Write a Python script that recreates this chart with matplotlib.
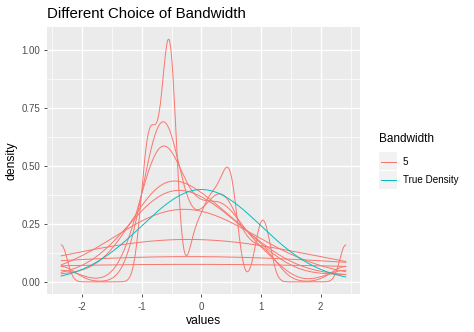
import numpy as np
import matplotlib
matplotlib.use("Agg")
import matplotlib.pyplot as plt
from matplotlib.lines import Line2D
from matplotlib.patches import Rectangle

# ---- data ----
values = [-2.35,
          -0.99, -0.92, -0.87, -0.83, -0.77, -0.68, -0.63, -0.58, -0.55,
          -0.53, -0.51, -0.49, -0.45,
          -0.12, 0.03, 0.14, 0.24,
          0.34, 0.42, 0.49, 0.56,
          0.97, 1.09,
          2.42]
bandwidths = [0.1, 0.24, 0.32, 0.56, 0.68, 1.0, 2.0, 3.55, 5.2]
legend_title = "Bandwidth"
legend_labels = ["5", "True Density"]
x_ticks = [-2, -1, 0, 1, 2]
y_ticks = [0.0, 0.25, 0.50, 0.75, 1.00]
y_tick_labels = ["0.00", "0.25", "0.50", "0.75", "1.00"]

RED = "#F8766D"
TEAL = "#00BFC4"

plt.rcParams['font.family'] = ['Liberation Sans', 'DejaVu Sans']

W, H = 474, 332
fig = plt.figure(figsize=(W / 100, H / 100), dpi=100)
L, R, T, B = 47, 360, 27, 294
ax = fig.add_axes([L / W, 1 - B / H, (R - L) / W, (B - T) / H])
ax.set_facecolor("#EBEBEB")
for s in ax.spines.values():
    s.set_visible(False)

x = np.asarray(values)
grid = np.linspace(x.min(), x.max(), 512)
ymax = 0
for bw in bandwidths:
    z = (grid[:, None] - x[None, :]) / bw
    dens = np.exp(-0.5 * z ** 2).sum(axis=1) / (len(x) * bw * np.sqrt(2 * np.pi))
    ymax = max(ymax, dens.max())
    ax.plot(grid, dens, color=RED, lw=0.7, zorder=3)

true_d = np.exp(-0.5 * grid ** 2) / np.sqrt(2 * np.pi)
ax.plot(grid, true_d, color=TEAL, lw=0.7, zorder=4)

span = x.max() - x.min()
ax.set_xlim(x.min() - 0.05 * span, x.max() + 0.05 * span)
ax.set_ylim(-0.05 * ymax, ymax * 1.05)

ax.set_xticks(x_ticks)
ax.set_xticklabels([str(t) for t in x_ticks])
ax.set_yticks(y_ticks)
ax.set_yticklabels(y_tick_labels)
ax.set_xticks([-2.5, -1.5, -0.5, 0.5, 1.5, 2.5], minor=True)
ax.set_yticks([0.125, 0.375, 0.625, 0.875], minor=True)
ax.grid(which="major", color="white", lw=1.0, zorder=1)
ax.grid(which="minor", color="white", lw=0.5, zorder=1)
ax.set_axisbelow(True)
ax.tick_params(which="major", length=2.5, width=0.6, color="#333333",
               labelcolor="#4D4D4D", labelsize=7, pad=2.5)
ax.tick_params(axis="x", which="major", pad=3.5)
ax.tick_params(which="minor", length=0)

ax.set_xlabel("values", fontsize=8.7, color="black", labelpad=2)
ax.set_ylabel("density", fontsize=8.7, color="black", labelpad=3)

fig.text(L / W, 1 - 17.5 / H, "Different Choice of Bandwidth", fontsize=10.8,
         ha="left", va="baseline", color="black")

# legend (drawn manually, ggplot style)
fig.text(379 / W, 1 - 139 / H, legend_title, fontsize=8.5, ha="left",
         va="center", color="black")
keys = [(RED, legend_labels[0], 161.5), (TEAL, legend_labels[1], 180)]
for col, lab, yc in keys:
    fig.add_artist(Rectangle((379 / W, 1 - (yc + 9) / H), 18 / W, 18 / H,
                             transform=fig.transFigure, facecolor="#F2F2F2",
                             edgecolor="none"))
    fig.add_artist(Line2D([380.5 / W, 395.5 / W], [1 - yc / H, 1 - yc / H],
                          transform=fig.transFigure, color=col, lw=0.75))
    fig.text(403 / W, 1 - yc / H, lab, fontsize=7.1, ha="left", va="center",
             color="black")

fig.savefig("out.png", dpi=100, facecolor="white")
